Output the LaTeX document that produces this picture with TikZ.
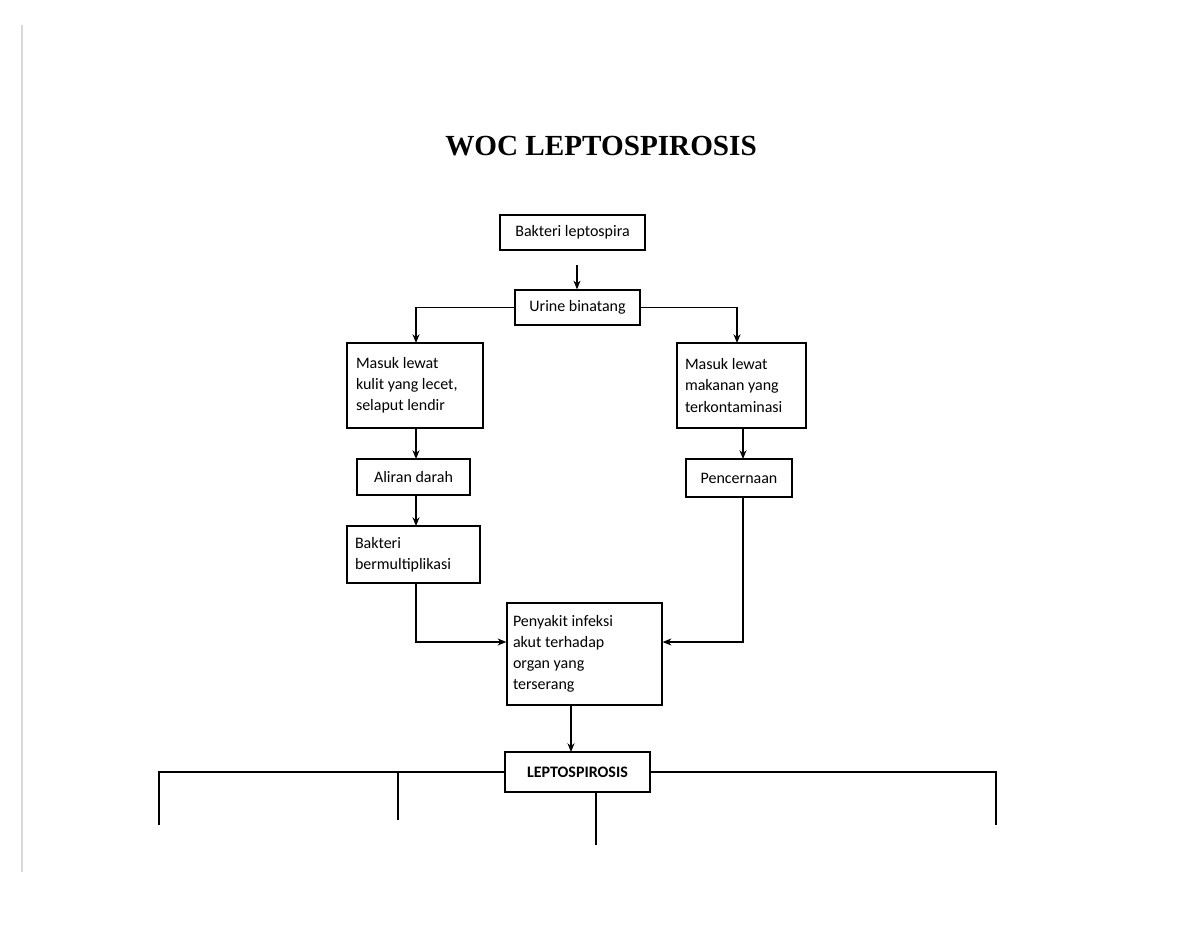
\documentclass[tikz,border=0pt]{standalone}
\usepackage{fontspec}
\setmainfont{Carlito}
\newfontfamily\titlefont{Liberation Serif}
\usetikzlibrary{arrows.meta}
\begin{document}
\begin{tikzpicture}[x=0.02cm,y=-0.02cm,
  box/.style={draw,line width=0.7pt,inner sep=0pt,font=\fontsize{9.1}{12}\selectfont},
  arr/.style={-{Stealth[length=5pt,width=4pt]},line width=0.7pt},
  ln/.style={line width=0.7pt}]
\useasboundingbox (0,0) rectangle (1200,927);
\draw[black!15,line width=0.6pt] (22,25) -- (22,872);
\node[font=\titlefont\bfseries\fontsize{16.6}{18}\selectfont] (title) at (601,146) {WOC LEPTOSPIROSIS};
\node[box,minimum width=145*0.02cm,minimum height=35*0.02cm] (b1) at (572.5,232.5) {Bakteri leptospira};
\node[box,minimum width=125*0.02cm,minimum height=35*0.02cm] (b2) at (577.5,307.5) {Urine binatang};
\node[box,minimum width=136*0.02cm,minimum height=85*0.02cm,text width=118*0.02cm,align=flush left] (l1) at (415,385.5) {Masuk lewat\\kulit yang lecet,\\selaput lendir};
\node[box,minimum width=113*0.02cm,minimum height=36*0.02cm] (l2) at (413.5,477) {Aliran darah};
\node[box,minimum width=133*0.02cm,minimum height=57*0.02cm,text width=117*0.02cm,align=flush left] (l3) at (413.5,554.5) {Bakteri\\bermultiplikasi};
\node[box,minimum width=129*0.02cm,minimum height=85*0.02cm,text width=113*0.02cm,align=flush left] (r1) at (741.5,385.5) {Masuk lewat\\makanan yang\\terkontaminasi};
\node[box,minimum width=106*0.02cm,minimum height=38*0.02cm] (r2) at (739,478) {Pencernaan};
\node[box,minimum width=155*0.02cm,minimum height=102*0.02cm,text width=143*0.02cm,align=flush left] (c1) at (584.5,654) {Penyakit infeksi\\akut terhadap\\organ yang\\terserang};
\node[box,minimum width=145*0.02cm,minimum height=40*0.02cm,font=\fontsize{9.1}{12}\selectfont\bfseries] (lep) at (577.5,772) {LEPTOSPIROSIS};
\coordinate (a0) at (577,265);
\draw[arr] (a0) -- (b2.north -| a0);
\draw[arr] (b2.west) -| (416,343);
\draw[arr] (b2.east) -| (737,343);
\draw[arr] (416,428) -- (416,459);
\draw[arr] (416,495) -- (416,526);
\draw[arr] (743,428) -- (743,459);
\draw[arr] (416,583) |- (c1.west |- 0,642);
\draw[arr] (743,497) |- (c1.east |- 0,642);
\draw[arr] (571,705) -- (571,752);
\coordinate (e1) at (159,825);
\coordinate (e2) at (398,820);
\coordinate (e3) at (996,825);
\coordinate (e4) at (596,845);
\draw[ln] (lep.west) -| (e1);
\draw[ln] (lep.east) -| (e3);
\draw[ln] (398,772) -- (e2);
\draw[ln] (lep.south -| e4) -- (e4);
\end{tikzpicture}
\end{document}
